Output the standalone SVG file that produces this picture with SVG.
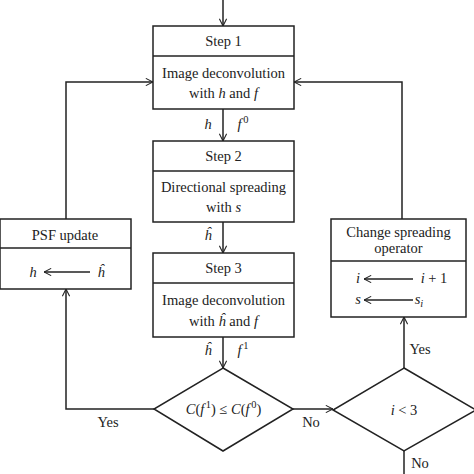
<svg xmlns="http://www.w3.org/2000/svg" width="474" height="474" viewBox="0 0 474 474">
<defs>
<marker id="arr" viewBox="0 0 10 10" refX="10" refY="5" markerWidth="8" markerHeight="8" markerUnits="userSpaceOnUse" orient="auto">
<polyline points="1,0.5 10,5 1,9.5" fill="none" stroke="#222" stroke-width="1.3"/>
</marker>
</defs>
<style>
.box{fill:#fff;stroke:#222;stroke-width:1.5}
.ln{fill:none;stroke:#222;stroke-width:1.5}
.t{font-family:"Liberation Serif","DejaVu Serif",serif;font-size:14.5px;fill:#222;text-anchor:middle}
.i{font-style:italic}
.s{font-size:10.5px;font-style:normal}
.si{font-size:10.5px;font-style:italic}
</style>
<rect width="474" height="474" fill="#fff"/>
<g id="connectors">
<line class="ln" x1="223" y1="0" x2="223" y2="26" marker-end="url(#arr)"/>
<line class="ln" x1="223" y1="109" x2="223" y2="141" marker-end="url(#arr)"/>
<line class="ln" x1="223" y1="222" x2="223" y2="253" marker-end="url(#arr)"/>
<line class="ln" x1="223" y1="337" x2="223" y2="368" marker-end="url(#arr)"/>
<polyline class="ln" points="66,219 66,82 153,82" marker-end="url(#arr)"/>
<polyline class="ln" points="402,219 402,82 294,82" marker-end="url(#arr)"/>
<polyline class="ln" points="154,409 66,409 66,289" marker-end="url(#arr)"/>
<line class="ln" x1="293" y1="409" x2="333" y2="409" marker-end="url(#arr)"/>
<line class="ln" x1="404" y1="368" x2="404" y2="317" marker-end="url(#arr)"/>
<line class="ln" x1="404" y1="451" x2="404" y2="474"/>
<text class="t i" x="208" y="129">h</text>
<text class="t i" x="243" y="129">f<tspan class="s" dx="1.5" dy="-6">0</tspan></text>
<text class="t i" x="208" y="240">ĥ</text>
<text class="t i" x="208" y="355">ĥ</text>
<text class="t i" x="243" y="355">f<tspan class="s" dx="1.5" dy="-6">1</tspan></text>
<text class="t" x="108" y="427">Yes</text>
<text class="t" x="311" y="427">No</text>
<text class="t" x="420" y="354">Yes</text>
<text class="t" x="420" y="468">No</text>
</g>
<g id="step1">
<rect class="box" x="153" y="26" width="141" height="83"/>
<line class="ln" x1="153" y1="56" x2="294" y2="56"/>
<text class="t" x="223.5" y="46">Step 1</text>
<text class="t" x="223.5" y="78">Image deconvolution</text>
<text class="t" x="223.5" y="98">with <tspan class="i">h</tspan> and <tspan class="i">f</tspan></text>
</g>
<g id="step2">
<rect class="box" x="153" y="141" width="141" height="81"/>
<line class="ln" x1="153" y1="171" x2="294" y2="171"/>
<text class="t" x="223.5" y="161">Step 2</text>
<text class="t" x="223.5" y="192">Directional spreading</text>
<text class="t" x="223.5" y="212">with <tspan class="i">s</tspan></text>
</g>
<g id="step3">
<rect class="box" x="153" y="253" width="141" height="84"/>
<line class="ln" x1="153" y1="283" x2="294" y2="283"/>
<text class="t" x="223.5" y="273">Step 3</text>
<text class="t" x="223.5" y="305">Image deconvolution</text>
<text class="t" x="223.5" y="326">with <tspan class="i">ĥ</tspan> and <tspan class="i">f</tspan></text>
</g>
<g id="psf">
<rect class="box" x="0" y="219" width="131" height="70"/>
<line class="ln" x1="0" y1="248" x2="131" y2="248"/>
<text class="t" x="65" y="240">PSF update</text>
<text class="t i" x="33" y="277">h</text>
<line class="ln" x1="90" y1="272" x2="44" y2="272" marker-end="url(#arr)"/>
<text class="t i" x="101" y="277">ĥ</text>
</g>
<g id="change">
<rect class="box" x="331" y="219" width="135" height="98"/>
<line class="ln" x1="331" y1="261" x2="466" y2="261"/>
<text class="t" x="398.5" y="237">Change spreading</text>
<text class="t" x="398.5" y="253">operator</text>
<text class="t i" x="358" y="283">i</text>
<line class="ln" x1="413" y1="279" x2="364" y2="279" marker-end="url(#arr)"/>
<text class="t" x="434" y="283"><tspan class="i">i</tspan> + 1</text>
<text class="t i" x="358" y="304">s</text>
<line class="ln" x1="413" y1="300" x2="364" y2="300" marker-end="url(#arr)"/>
<text class="t i" x="419" y="304">s<tspan class="si" dy="3">i</tspan></text>
</g>
<g id="decision1">
<polygon class="box" points="223,368 293,409 223,451 154,409"/>
<text class="t" x="223.5" y="414"><tspan class="i">C</tspan>(<tspan class="i">f</tspan><tspan class="s" dx="1.5" dy="-6">1</tspan><tspan dy="6">) ≤ </tspan><tspan class="i">C</tspan>(<tspan class="i">f</tspan><tspan class="s" dx="1.5" dy="-6">0</tspan><tspan dy="6">)</tspan></text>
</g>
<g id="decision2">
<polygon class="box" points="404,368 476,410 404,451 333,410"/>
<text class="t" x="404" y="415"><tspan class="i">i</tspan> &lt; 3</text>
</g>
</svg>
